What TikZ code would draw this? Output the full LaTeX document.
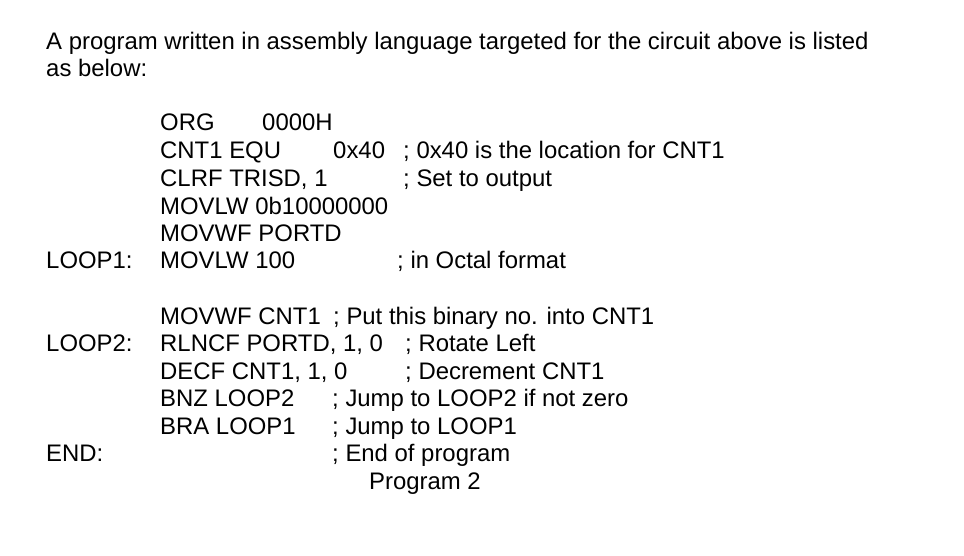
\documentclass[tikz,border=0pt]{standalone}
\usepackage{fontspec}
\setmainfont{Liberation Sans}
\begin{document}
\begin{tikzpicture}[x=0.03cm,y=-0.03cm,
  txt/.style={anchor=base west,inner sep=0pt,font=\fontsize{20.4}{24}\selectfont}]
\useasboundingbox (0,0) rectangle (964,555);
% heading
\node[txt] (head1) at (46,49) {A program written in assembly language targeted for the circuit above is listed};
\node[txt] (head2) at (46,76) {as below:};
% labels
\node[txt] (lbl1) at (46,268) {LOOP1:};
\node[txt] (lbl2) at (46,351) {LOOP2:};
\node[txt] (lbl3) at (46,461) {END:};
% instructions
\node[txt] (i1) at (160,130) {ORG};
\node[txt] (i1b) at (262,130) {0000H};
\node[txt] (i2) at (160,158) {CNT1 EQU};
\node[txt] (i2b) at (333,158) {0x40};
\node[txt] (i3) at (160,186) {CLRF TRISD, 1};
\node[txt] (i4) at (160,214) {MOVLW 0b10000000};
\node[txt] (i5) at (160,241) {MOVWF PORTD};
\node[txt] (i6) at (160,268) {MOVLW 100};
\node[txt] (i7) at (160,324) {MOVWF CNT1};
\node[txt] (i8) at (160,351) {RLNCF PORTD, 1, 0};
\node[txt] (i9) at (160,379) {DECF CNT1, 1, 0};
\node[txt] (i10) at (160,406) {BNZ LOOP2};
\node[txt] (i11) at (160,434) {BRA LOOP1};
% comments
\node[txt] (c2) at (403,158) {; 0x40 is the location for CNT1};
\node[txt] (c3) at (403,186) {; Set to output};
\node[txt] (c6) at (397,268) {; in Octal format};
\node[txt] (c7) at (333,324) {; Put this binary no. into CNT1};
\node[txt] (c8) at (405,351) {; Rotate Left};
\node[txt] (c9) at (405,379) {; Decrement CNT1};
\node[txt] (c10) at (332,406) {; Jump to LOOP2 if not zero};
\node[txt] (c11) at (332,434) {; Jump to LOOP1};
\node[txt] (c12) at (332,461) {; End of program};
\node[txt] (cap) at (369,489) {Program 2};
\end{tikzpicture}
\end{document}
